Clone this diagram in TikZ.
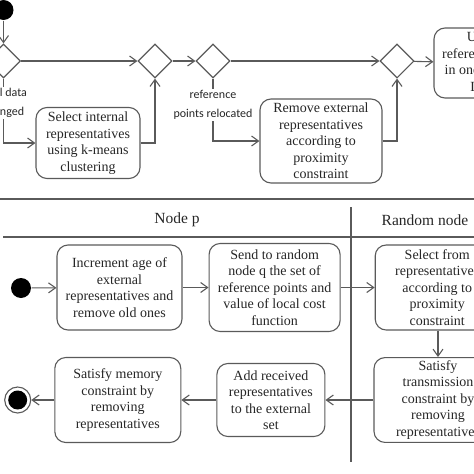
\documentclass[tikz,border=0pt]{standalone}
\usepackage{fontspec}
\setmainfont{Liberation Serif}
\newfontfamily\guardfont{Carlito}
\usetikzlibrary{positioning, shapes.geometric, arrows.meta}
\definecolor{edge}{HTML}{5A5A5A}

\begin{document}
\begin{tikzpicture}[x=1pt, y=-1pt, line width=1.1pt, color=edge, text=black!85,
  act/.style = {draw, rounded corners=11pt, align=center, inner sep=3pt, font=\fontsize{14}{16.5}\selectfont},
  dec/.style = {draw, diamond, aspect=1, minimum size=34pt, inner sep=0pt},
  guard/.style = {align=center, inner sep=1pt, font=\guardfont\fontsize{12}{19}\selectfont},
  lane/.style = {font=\fontsize{15.5}{18}\selectfont},
  dot/.style = {circle, fill=black, minimum size=20pt, inner sep=0pt},
  arr/.style = {-{Straight Barb[length=7pt, width=10pt]}}]
\useasboundingbox (0,0) rectangle (474,474);

% upper activity
\node[dot] (st) at (3.5,10) {};
\node[dec] (d1) at (3.5,61) {};
\node[dec] (d2) at (155,61) {};
\node[dec] (d3) at (213,61) {};
\node[dec] (d4) at (397,61) {};
\node[guard] (g1) at (3.5,103) {local data\\changed};
\node[guard] (g3) at (213,105) {reference\\points relocated};
\node[act, minimum width=104pt, minimum height=71pt] (sel) at (88,143) {Select internal\\representatives\\using k-means\\clustering};
\node[act, minimum width=122pt, minimum height=84pt] (rem) at (321,141) {Remove external\\representatives\\according to\\proximity\\constraint};
\node[act, minimum width=106pt, minimum height=70pt] (upd) at (487,63) {Update\\reference points\\in one iteration\\Lloyd};

\draw[arr] (st) -- (d1);
\draw[arr] (d1) -- (d2);
\draw (d1) -- (g1);
\draw[arr] (g1) |- (sel);
\draw[arr] (sel) -| (d2);
\draw[arr] (d2) -- (d3);
\draw (d3) -- (g3);
\draw[arr] (g3) |- (rem);
\draw[arr] (rem) -| (d4);
\draw[arr] (d3) -- (d4);
\draw[arr] (d4) -- (upd);

% swimlanes
\draw (0,199) -- (474,199);
\draw (3,237) -- (474,237);
\draw (351,207) -- (351,462);
\node[lane] (hp) at (177,220) {Node p};
\node[lane] (hq) at (425,220) {Random node};

\node[dot] (st2) at (21,288) {};
\node[act, minimum width=125pt, minimum height=85pt] (inc) at (119.5,287.5) {Increment age of\\external\\representatives and\\remove old ones};
\node[act, minimum width=131pt, minimum height=88pt, right=26pt of inc] (snd) {Send to random\\node q the set of\\reference points and\\value of local cost\\function};
\node[act, minimum width=124pt, minimum height=85pt, right=34pt of snd] (pick) {Select from\\representatives\\according to\\proximity\\constraint};
\node[act, minimum width=128pt, minimum height=84pt] (trn) at (438,400) {Satisfy\\transmission\\constraint by\\removing\\representatives};
\node[act, minimum width=108pt, minimum height=73pt, left=48pt of trn] (add) {Add received\\representatives\\to the external\\set};
\node[act, minimum width=126pt, minimum height=85pt, left=35pt of add] (mem) {Satisfy memory\\constraint by\\removing\\representatives};
\node[draw, circle, minimum size=26pt, inner sep=0pt, left=23pt of mem] (fin) {};
\node[dot, minimum size=19pt] (finc) at (fin) {};

\draw[arr] (st2) -- (inc);
\draw[arr] (inc) -- (snd);
\draw[arr] (snd) -- (pick);
\draw[arr] (trn.north |- pick.south) -- (trn.north);
\draw[arr] (trn) -- (add);
\draw[arr] (add) -- (mem);
\draw[arr] (mem) -- (fin);

\end{tikzpicture}
\end{document}
